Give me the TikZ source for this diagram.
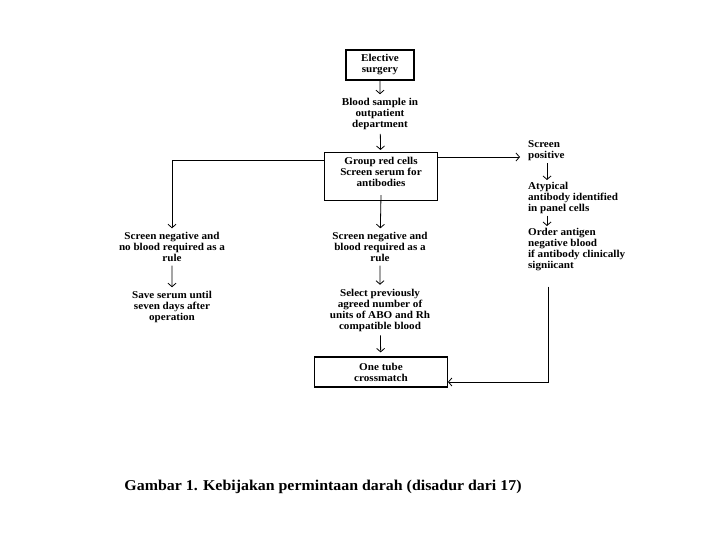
\documentclass[tikz,border=0pt]{standalone}
\usepackage{fontspec}
\setmainfont{Liberation Serif}
\usetikzlibrary{positioning,arrows.meta}
\begin{document}
\begin{tikzpicture}[x=1pt,y=-1pt,>={Straight Barb[length=3.5pt,width=8pt]},line width=0.8pt,
	every node/.style={font=\bfseries\fontsize{10.5}{11}\selectfont,inner sep=1pt,xscale=1.06},
	box/.style={draw,line width=1.2pt,align=center,inner sep=2pt},
	txt/.style={align=center,outer sep=3pt},
	ltxt/.style={align=left,anchor=north west,outer sep=1pt}]
\useasboundingbox[fill=white] (0,0) rectangle (720,540);
% centre column
\node[box,minimum width=64pt,minimum height=30pt] (elective) at (380,65)
	{Elective\\surgery};
\node[txt] (sample) at (380,114) {Blood sample in\\outpatient\\department};
\node[box,minimum width=106pt,minimum height=48pt,anchor=north] (group) at (381,152)
	{Group red cells\\Screen serum for\\antibodies\\[-2pt]};
\node[txt] (negyes) at (380,247) {Screen negative and\\blood required as a\\rule};
\node[txt] (select) at (380,310) {Select previously\\agreed number of\\units of ABO and Rh\\compatible blood};
\node[box,minimum width=125pt,minimum height=30pt] (onetube) at (381,372)
	{One tube\\crossmatch};
% left column
\node[txt] (negno) at (172,247) {Screen negative and\\no blood required as a\\rule};
\node[txt] (save) at (172,307) {Save serum until\\seven days after\\operation};
% right column
\node[ltxt] (pos) at (526,139) {Screen\\positive};
\node[ltxt] (atyp) at (526,180) {Atypical\\antibody identified\\in panel cells};
\node[ltxt] (order) at (526,226) {Order antigen\\negative blood\\if antibody clinically\\signiicant};
\coordinate (rx) at (547,0);
\coordinate (corner) at (548,382);
% caption
\node[anchor=west,font=\bfseries\fontsize{15}{17}\selectfont,xscale=1] (caption) at (123,487)
	{Gambar 1. Kebijakan permintaan darah (disadur dari 17)};
% arrows
\draw[->] (elective) -- (sample);
\draw[->,shorten >=2pt] (sample) -- (group);
\draw[->] ([yshift=6pt]group.south) -- (negyes);
\draw[->] (negyes) -- (select);
\draw[->,shorten >=4pt] (select) -- (onetube);
\draw[->] (group.west |- 0,160) -| (negno.north);
\draw[->] (negno) -- (save);
\draw[->] (group.east |- 0,157) -- ([xshift=-6pt]pos.west |- 0,157);
\draw[->] (pos.south -| rx) -- (atyp.north -| rx);
\draw[->] (atyp.south -| rx) -- (order.north -| rx);
\draw[->] ([yshift=-14pt]order.south -| corner) -- (corner) -- (onetube.east |- corner);
\end{tikzpicture}
\end{document}
